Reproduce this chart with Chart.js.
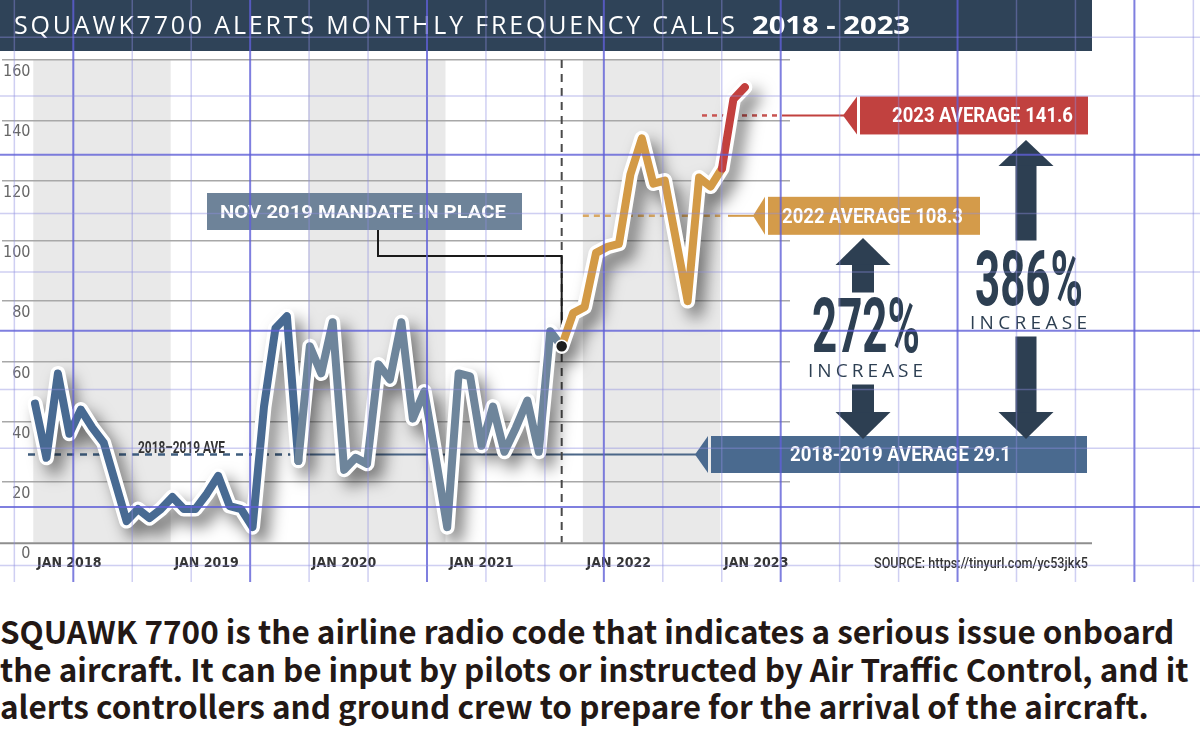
<!DOCTYPE html>
<html><head><meta charset="utf-8">
<script src="https://cdn.jsdelivr.net/npm/chart.js@4.4.1/dist/chart.umd.min.js"></script>
<style>
html,body{margin:0;padding:0;background:#fff;width:1200px;height:732px;overflow:hidden;}
#wrap{position:absolute;left:0;top:0;width:1200px;height:585px;}
#caption{position:absolute;left:0;top:612px;width:1200px;font-family:"Noto Sans CJK JP","Noto Sans",sans-serif;font-weight:700;color:#231815;white-space:nowrap;line-height:37.5px;font-size:27px;}
</style></head><body>
<div id="wrap"><canvas id="c"></canvas></div>
<div id="caption"><span id="l1">SQUAWK 7700 is the airline radio code that indicates a serious issue onboard</span><br><span>the aircraft. It can be input by pilots or instructed by Air Traffic Control, and it</span><br><span>alerts controllers and ground crew to prepare for the arrival of the aircraft.</span></div>
<script>
// ---------------- DATA ----------------
const yearTicks = ['JAN 2018','JAN 2019','JAN 2020','JAN 2021','JAN 2022','JAN 2023'];
// monthly Squawk 7700 calls, Jan 2018 .. Mar 2023
const monthlyCalls = [46,28,56,36,44,38,33,20,7,11,
                      8,11,15,11,11,16,22,12,11,5,
                      45,71,75,27,65,56,73,24,28,26,
                      59,54,73,41,50,28,5,56,55,32,
                      45,30,38,47,30,70,65,76,78,96,
                      98,99,122,134,119,120,100,80,121,118,
                      124,147,151];
const averageValues = [29.1, 108.3, 141.6];
const averageLabels = ['2018-2019 AVERAGE 29.1','2022 AVERAGE 108.3','2023 AVERAGE 141.6'];
const increaseLabels = ['272%','386%'];
const shadedYears = [2018, 2020, 2022];
const mandateIndex = 46;
const slateFrom = 23, goldFrom = 46, redFrom = 60;
const titleText = 'SQUAWK7700 ALERTS MONTHLY FREQUENCY CALLS';
const titleYears = '2018 - 2023';
const mandateText = 'NOV 2019 MANDATE IN PLACE';
const aveText = '2018\u20132019 AVE';
const sourceText = 'SOURCE: https://tinyurl.com/yc53jkk5';

// ---------------- STYLE ----------------
const BLUE='#486a92', SLATE='#6e859b', GOLD='#d39a46', RED='#c3403e', NAVY='#2d3f52';
const COND='"Liberation Sans Narrow","DejaVu Sans Condensed","Roboto Condensed",Roboto,sans-serif';
function segColor(i){ if(i>=redFrom) return RED; if(i>=goldFrom) return GOLD; if(i>=slateFrom) return SLATE; return BLUE; }

function fitScaled(ctx,text,x,baseline,width,font,color,align){
  ctx.save(); ctx.font=font; ctx.fillStyle=color; ctx.textBaseline='alphabetic'; ctx.textAlign='left';
  const w=ctx.measureText(text).width; const s=width/w;
  const left = align==='center' ? x-width/2 : x;
  ctx.translate(left,baseline); ctx.scale(s,1); ctx.fillText(text,0,0); ctx.restore();
}
function fitSpaced(ctx,text,x,baseline,width,font,color,align){
  ctx.save(); ctx.font=font; ctx.fillStyle=color; ctx.textBaseline='alphabetic'; ctx.textAlign='left';
  const ch=[...text]; const ws=ch.map(c=>ctx.measureText(c).width); const tot=ws.reduce((a,b)=>a+b,0);
  const sp=ch.length>1?(width-tot)/(ch.length-1):0;
  let cx = align==='center' ? x-width/2 : x;
  ch.forEach((c,i)=>{ctx.fillText(c,cx,baseline); cx+=ws[i]+sp;});
  ctx.restore();
}
function line(ctx,pts,color,w,dash){
  ctx.save(); ctx.strokeStyle=color; ctx.lineWidth=w; ctx.setLineDash(dash||[]);
  ctx.beginPath(); pts.forEach((p,i)=>i?ctx.lineTo(p[0],p[1]):ctx.moveTo(p[0],p[1])); ctx.stroke(); ctx.restore();
}
function badge(ctx,cy,tipX,bodyX,rightX,h,color,text,textX,textW){
  ctx.save(); ctx.fillStyle=color;
  ctx.beginPath(); ctx.moveTo(tipX,cy); ctx.lineTo(bodyX-3,cy-h/2); ctx.lineTo(bodyX-3,cy+h/2); ctx.closePath(); ctx.fill();
  ctx.fillRect(bodyX,cy-h/2,rightX-bodyX,h);
  ctx.restore();
  fitScaled(ctx,text,textX,cy+7,textW,'700 20px Roboto','#ffffff');
}
function arrow(ctx,cx,tipY,headBaseY,shaftEndY,halfHead,halfShaft){
  ctx.save(); ctx.fillStyle=NAVY;
  ctx.beginPath(); ctx.moveTo(cx,tipY); ctx.lineTo(cx+halfHead,headBaseY); ctx.lineTo(cx-halfHead,headBaseY); ctx.closePath(); ctx.fill();
  const a=Math.min(headBaseY,shaftEndY), b=Math.max(headBaseY,shaftEndY);
  ctx.fillRect(cx-halfShaft,a-0.5,halfShaft*2,b-a+1);
  ctx.restore();
}

const decor = {
  id:'decor',
  beforeDraw(chart){
    const {ctx,chartArea:ca,scales:{x}}=chart;
    ctx.save();
    ctx.fillStyle='#fff'; ctx.fillRect(0,0,chart.width,chart.height);
    ctx.fillStyle='#2f4358'; ctx.fillRect(0,0,1092,51);
    ctx.restore();
    fitSpaced(ctx,titleText,14,34,721,'500 25px "Open Sans"','#ffffff');
    fitScaled(ctx,titleYears,752,34,158,'700 25px "Open Sans"','#ffffff');
    ctx.save(); ctx.fillStyle='#e9e9e9';
    shadedYears.forEach(yr=>{const m0=(yr-2018)*12-0.15; const a=x.getPixelForValue(m0), b=x.getPixelForValue(m0+12);
      ctx.fillRect(a,ca.top,b-a,ca.bottom-ca.top);});
    ctx.restore();
  },
  beforeDatasetsDraw(chart){
    const {ctx,chartArea:ca,scales:{x,y}}=chart;
    const y0=y.getPixelForValue(0);
    line(ctx,[[0,y0+1],[1092,y0+1]],'#8e8e8e',2);
    const ya=y.getPixelForValue(averageValues[0]);
    line(ctx,[[28,ya],[290,ya]],'#3f5d7e',2.5,[7,6]);
    line(ctx,[[290,ya],[700,ya]],'#4b6788',2);
    fitScaled(ctx,aveText,138,453,87,'700 16px Roboto','#333333');
    const yb=y.getPixelForValue(averageValues[1]);
    line(ctx,[[x.getPixelForValue(47.85),yb],[x.getPixelForValue(59.85),yb]],'#d9a863',2.5,[6,5]);
    line(ctx,[[728,yb],[756,yb]],'#d49b4a',2);
    const yc=y.getPixelForValue(averageValues[2]);
    line(ctx,[[702,yc],[780,yc]],'#c95452',2.5,[5,5]);
    line(ctx,[[782,yc],[846,yc]],'#c1413f',2);
    const mx=x.getPixelForValue(mandateIndex), my=y.getPixelForValue(monthlyCalls[mandateIndex]);
    line(ctx,[[mx,ca.top],[mx,ca.bottom]],'#4a4a4a',2,[8,6]);
    line(ctx,[[378,230],[378,256],[mx,256],[mx,my]],'#1a1a1a',2);
    ctx.save(); ctx.fillStyle='#6e8399'; ctx.fillRect(207,193,315,37); ctx.restore();
    fitScaled(ctx,mandateText,220,218,286,'700 18px Roboto','#ffffff');
  },
  beforeDatasetDraw(chart,args){
    if(args.index===1){const c=chart.ctx; c.save(); c.shadowColor='rgba(0,0,0,0.5)'; c.shadowBlur=16; c.shadowOffsetX=8; c.shadowOffsetY=10;}
  },
  afterDatasetDraw(chart,args){ if(args.index===1) chart.ctx.restore(); },
  afterDatasetsDraw(chart){
    const {ctx,scales:{y}}=chart;
    badge(ctx,y.getPixelForValue(averageValues[2]),843,860,1088,38,'#c1413f',averageLabels[2],892,181);
    badge(ctx,y.getPixelForValue(averageValues[1]),753,768,980,38,'#d49b4a',averageLabels[1],782,181);
    badge(ctx,y.getPixelForValue(averageValues[0]),695,711,1087,37,'#4a6a8f',averageLabels[0],790,221);
    arrow(ctx,863,238,265,292,27.5,11);
    arrow(ctx,863,439,412,385,27.5,11);
    arrow(ctx,1026,140,166,240,27.5,10.5);
    arrow(ctx,1026,439,412,337,27.5,10.5);
    fitScaled(ctx,increaseLabels[0],866,352,108,'700 76px Roboto',NAVY,'center');
    fitScaled(ctx,increaseLabels[1],1029,305,108,'700 76px Roboto',NAVY,'center');
    fitSpaced(ctx,'INCREASE',865.5,377,115,'500 19px "Open Sans"',NAVY,'center');
    fitSpaced(ctx,'INCREASE',1028.5,328.5,117,'500 19px "Open Sans"',NAVY,'center');
    fitScaled(ctx,sourceText,874,568,214,'500 14px Roboto','#333333');
  },
  afterDraw(chart){
    const ctx=chart.ctx; ctx.save();
    const bottom=582;
    for(let k=0;k<=20;k++){const xx=14.35+58.95*k; const strong=(k%3===1);
      ctx.strokeStyle=strong?'rgba(95,95,215,0.8)':'rgba(140,140,225,0.42)'; ctx.lineWidth=strong?2:1.5;
      ctx.beginPath(); ctx.moveTo(xx,0); ctx.lineTo(xx,bottom); ctx.stroke();}
    for(let k=0;k<=9;k++){const yy=37.3+58.7*k; if(yy>bottom) break; const strong=(k%3===2);
      ctx.strokeStyle=strong?'rgba(95,95,215,0.8)':'rgba(140,140,225,0.42)'; ctx.lineWidth=strong?2:1.5;
      ctx.beginPath(); ctx.moveTo(0,yy); ctx.lineTo(1200,yy); ctx.stroke();}
    ctx.restore();
  }
};

const pts = monthlyCalls.map((v,i)=>({x:i,y:v}));
const xMin=-2.882, xMax=65.94;
new Chart(document.getElementById('c'),{
  type:'line',
  data:{datasets:[
    {label:'calls',data:pts,order:1,borderWidth:8,borderColor:BLUE,
     segment:{borderColor:c=>segColor(c.p0DataIndex)},
     pointRadius:c=>c.dataIndex===mandateIndex?6:0,pointHoverRadius:0,
     pointBackgroundColor:'#1e1e1e',pointBorderColor:'#ffffff',pointBorderWidth:1.5,
     borderJoinStyle:'round',borderCapStyle:'round',tension:0,fill:false},
    {label:'outline',data:pts,order:2,borderWidth:15,borderColor:'#ffffff',pointRadius:0,pointHoverRadius:0,
     borderJoinStyle:'round',borderCapStyle:'round',tension:0,fill:false}
  ]},
  options:{
    responsive:true,maintainAspectRatio:false,animation:false,events:[],
    layout:{padding:{left:0,right:410,top:60,bottom:8}},
    plugins:{legend:{display:false},tooltip:{enabled:false}},
    scales:{
      x:{type:'linear',min:xMin,max:xMax,grid:{display:false},border:{display:false},
         afterBuildTicks:s=>{s.ticks=yearTicks.map((_,i)=>({value:i*12}));},
         ticks:{autoSkip:false,maxRotation:0,minRotation:0,align:'start',labelOffset:2,padding:5,color:'#333333',
                font:{family:COND,size:14,weight:'bold'},callback:v=>yearTicks[Math.round(v/12)]||''}},
      y:{min:0,max:160,border:{display:false},
         grid:{color:c=>(c.tick&&c.tick.value===0)?'rgba(0,0,0,0)':'#a8a8a8',lineWidth:1.5,drawTicks:false},
         ticks:{stepSize:20,mirror:true,crossAlign:'far',padding:1,labelOffset:12,color:'#666666',font:{family:COND,size:16}}}
    }
  },
  plugins:[decor]
});

(function(){
  const cv=document.createElement('canvas').getContext('2d');
  cv.font='700 100px "Noto Sans CJK JP"';
  const w=cv.measureText(document.getElementById('l1').textContent).width;
  document.getElementById('caption').style.fontSize=(100*1175/w).toFixed(2)+'px';
})();
</script>
</body></html>
